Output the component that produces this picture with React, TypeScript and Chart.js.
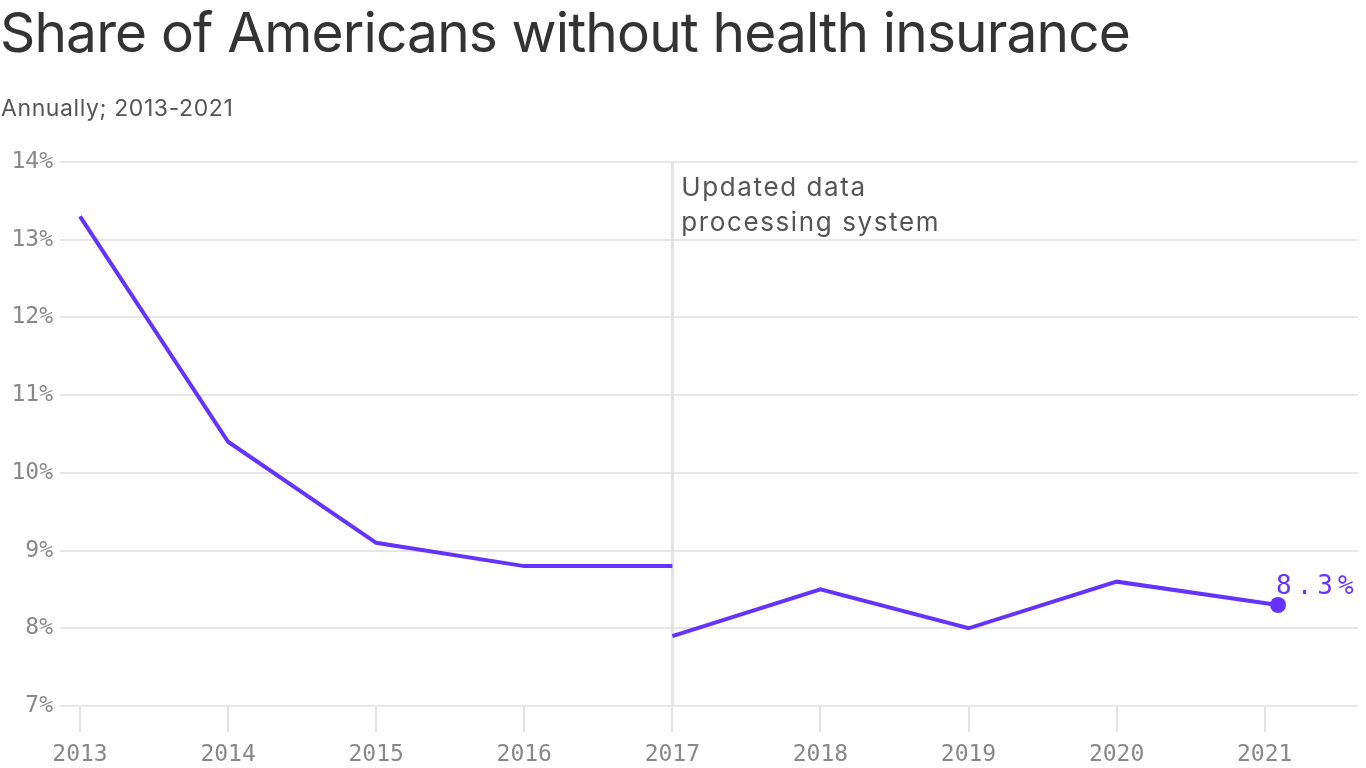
import React, { useEffect, useRef } from "react";
import { Chart, registerables } from "chart.js";

Chart.register(...registerables);

const TITLE = "Share of Americans without health insurance";
const SUBTITLE = "Annually; 2013-2021";
const ANNOTATION = ["Updated data", "processing system"];

const YEARS = [2013, 2014, 2015, 2016, 2017, 2018, 2019, 2020, 2021];
const OLD_X = [2013, 2014, 2015, 2016, 2017];
const OLD_VALUES = [13.3, 10.4, 9.1, 8.8, 8.8];
const NEW_X = [2017, 2018, 2019, 2020, 2021.09];
const NEW_VALUES = [7.9, 8.5, 8.0, 8.6, 8.3];
const BREAK_YEAR = 2017;
const Y_TICKS = [7, 8, 9, 10, 11, 12, 13, 14];

const PURPLE = "#6533ff";
const MONO = "'DejaVu Sans Mono', monospace";
const SANS = "Inter, 'Noto Sans', sans-serif";

export default function App() {
  const ref = useRef<HTMLCanvasElement | null>(null);

  useEffect(() => {
    if (!ref.current) return;
    const labelPlugin = {
      id: "labels",
      afterDatasetsDraw(chart: any) {
        const ctx = chart.ctx;
        const xs = chart.scales.x;
        const ys = chart.scales.y;
        ctx.save();
        // annotation
        ctx.fillStyle = "#555555";
        ctx.font = `26px ${SANS}`;
        (ctx as any).letterSpacing = "1.6px";
        ctx.textAlign = "left";
        ctx.textBaseline = "alphabetic";
        const ax = xs.getPixelForValue(BREAK_YEAR) + 9;
        ctx.fillText(ANNOTATION[0], ax, 196);
        ctx.fillText(ANNOTATION[1], ax, 231);
        // end label
        const lastI = NEW_VALUES.length - 1;
        const px = xs.getPixelForValue(NEW_X[lastI]);
        const py = ys.getPixelForValue(NEW_VALUES[lastI]);
        ctx.fillStyle = PURPLE;
        ctx.font = `26px ${MONO}`;
        (ctx as any).letterSpacing = "5px";
        ctx.fillText(NEW_VALUES[lastI].toFixed(1) + "%", px - 2, py - 11);
        ctx.restore();
      },
    };

    const chart = new Chart(ref.current, {
      type: "line",
      data: {
        datasets: [
          {
            data: OLD_X.map((x, i) => ({ x, y: OLD_VALUES[i] })),
            borderColor: PURPLE,
            borderWidth: 4,
            pointRadius: 0,
            tension: 0,
          },
          {
            data: NEW_X.map((x, i) => ({ x, y: NEW_VALUES[i] })),
            borderColor: PURPLE,
            backgroundColor: PURPLE,
            borderWidth: 4,
            pointRadius: NEW_X.map((_, i) => (i === NEW_X.length - 1 ? 8 : 0)),
            pointBorderWidth: 0,
            tension: 0,
          },
          {
            data: [
              { x: BREAK_YEAR, y: Y_TICKS[0] },
              { x: BREAK_YEAR, y: Y_TICKS[Y_TICKS.length - 1] },
            ],
            borderColor: "#e2e2e2",
            borderWidth: 3,
            pointRadius: 0,
          },
        ],
      },
      options: {
        animation: false,
        responsive: false,
        devicePixelRatio: 1,
        layout: { padding: { top: 162, right: 6, left: 0, bottom: 0 } },
        plugins: { legend: { display: false }, tooltip: { enabled: false } },
        scales: {
          x: {
            type: "linear",
            min: 2012.865,
            max: 2021.63,
            afterBuildTicks(scale: any) {
              scale.ticks = YEARS.map((v) => ({ value: v }));
            },
            afterFit(scale: any) {
              scale.height = 62;
            },
            border: { display: false },
            grid: {
              drawOnChartArea: false,
              drawTicks: true,
              tickLength: 26,
              color: "#e2e2e2",
              lineWidth: 2,
            },
            ticks: {
              autoSkip: false,
              maxRotation: 0,
              padding: 9,
              color: "#888888",
              font: { family: MONO, size: 23 },
              callback: (v: any) => String(v),
            },
          },
          y: {
            min: Y_TICKS[0],
            max: Y_TICKS[Y_TICKS.length - 1],
            afterBuildTicks(scale: any) {
              scale.ticks = Y_TICKS.map((v) => ({ value: v }));
            },
            afterFit(scale: any) {
              scale.width = 60;
            },
            border: { display: false },
            grid: { drawTicks: false, color: "#e6e6e6", lineWidth: 2 },
            ticks: {
              padding: 7,
              color: "#888888",
              font: { family: MONO, size: 23 },
              callback: (v: any) => v + "%",
            },
          },
        },
      },
      plugins: [labelPlugin],
    });
    return () => chart.destroy();
  }, []);

  return (
    <div
      style={{
        position: "absolute",
        left: 0,
        top: 0,
        width: 1366,
        height: 768,
        background: "#ffffff",
        overflow: "hidden",
      }}
    >
      <canvas
        ref={ref}
        width={1366}
        height={768}
        style={{ position: "absolute", left: 0, top: 0, width: 1366, height: 768 }}
      />
      <div
        style={{
          position: "absolute",
          left: 0,
          top: 5,
          fontFamily: SANS,
          fontSize: 55,
          lineHeight: 1,
          color: "#333333",
          whiteSpace: "nowrap",
          letterSpacing: -0.85,
        }}
      >
        {TITLE}
      </div>
      <div
        style={{
          position: "absolute",
          left: 1,
          top: 97,
          fontFamily: SANS,
          fontSize: 23,
          lineHeight: 1,
          color: "#555555",
          whiteSpace: "nowrap",
          letterSpacing: 0.6,
        }}
      >
        {SUBTITLE}
      </div>
    </div>
  );
}
